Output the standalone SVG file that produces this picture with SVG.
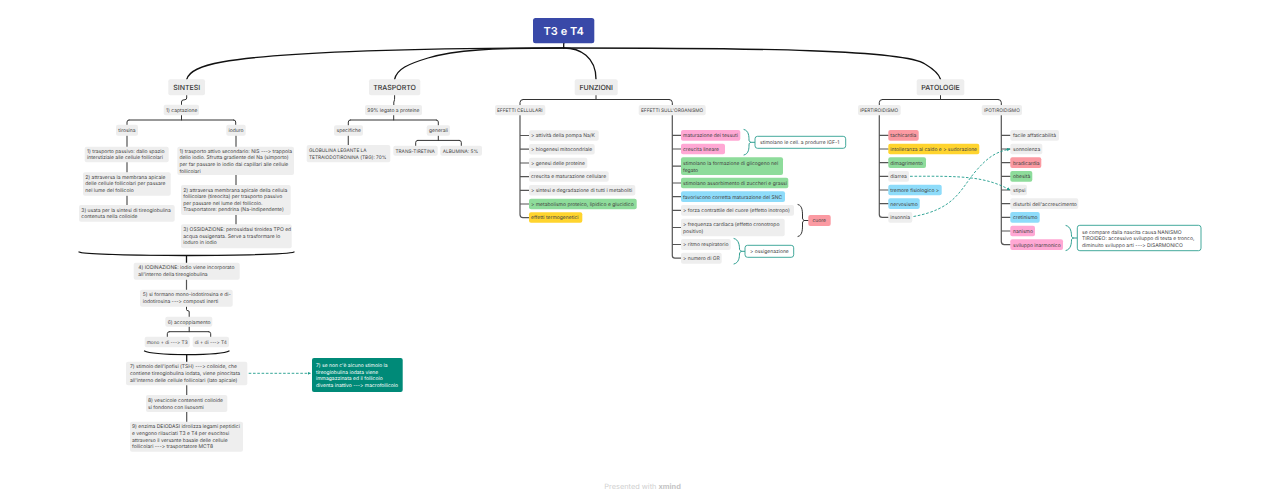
<svg xmlns="http://www.w3.org/2000/svg" width="1280" height="495" viewBox="0 0 1280 495">
<defs>
<marker id="ah" markerWidth="4" markerHeight="4" refX="3" refY="2" orient="auto" markerUnits="userSpaceOnUse"><path d="M0 0.4L3.2 2L0 3.6Z" fill="#1f9c8c"/></marker>
</defs>
<style>
text{font-family:Inter,"Noto Sans","Liberation Sans",sans-serif;font-size:5px;fill:#444;font-feature-settings:"calt" 0,"liga" 0;font-variant-ligatures:none;text-rendering:geometricPrecision}
.k{font-size:4.75px}
.g{fill:#eeeeee}.p{fill:#ffa8d4}.r{fill:#fb9aa2}.v{fill:#8edc9b}.b{fill:#8edcfa}.y{fill:#ffd42e}
.o{fill:#fff;stroke:#2f9f91;stroke-width:.9}
.t{font-size:7px;font-weight:500;fill:#333}
.w{fill:#fff}
.c path{fill:none;stroke:#333;stroke-width:1;stroke-linecap:round}
.c .m{stroke:#111;stroke-width:1.3}
.c .h{stroke:#555;stroke-width:1.2}
.c .tb{stroke:#2f9f91}
.c .d{stroke:#1f9c8c;stroke-width:.9;stroke-dasharray:2.6 1.7;stroke-linecap:butt;marker-end:url(#ah)}
</style>
<rect width="1280" height="495" fill="#fff"/>
<g id="connectors" class="c">
<path class="m" d="M563.7 43.3V48"/>
<path class="m" d="M563.7 48C400 48 270 53 222 62C200 66 189 71 186.7 79.3"/>
<path class="m" d="M563.7 48C490 48 455 50 428 58C408 64 397 69 394.6 79.3"/>
<path class="m" d="M563.7 48C580 48 596 57 596 79.3"/>
<path class="m" d="M563.7 48C760 48 905 50 925 64C935 70 939 74 940.5 79.3"/>
<path d="M186.7 95.3V98Q186.7 99.5 185 99.7L183 100Q181.5 100.3 181.5 102V104.7"/>
<path d="M181.5 115.3V120M129 120H233.7M129 120Q127 120 127 122V124.7M233.7 120Q235.7 120 235.7 122V124.7"/>
<path class="h" d="M127 135.7V146.7M127 162.3V172.3M127 195.7V205M236 135.7V146.7M236 175V185M236 215V224.3"/>
<path class="m" d="M79 252C85 255 150 255.3 186.5 255.5C225 255.3 288 255 294 252M186.5 255.5V262.7"/>
<path class="h" d="M186.5 279.7V289.7"/>
<path d="M186.5 306.7V309.5Q186.5 310.7 188 310.7Q189.2 310.7 189.2 312V316.7"/>
<path d="M189.2 326.7V331.7M169.3 331.7H208.7M169.3 331.7Q167.3 331.7 167.3 333.7V336.7M208.7 331.7Q210.7 331.7 210.7 333.7V336.7"/>
<path class="m" d="M144.5 351C150 354 170 354.5 186.7 354.7C205 354.5 224 354 229 351M186.7 354.7V361.7"/>
<path class="h" d="M186.7 385.3V395M186.7 412V421.7"/>
<path d="M394.6 95.3V98Q394.6 99.5 394.2 101L393.8 102V105"/>
<path d="M393.7 115.3V120M350.3 120H436.3M350.3 120Q348.3 120 348.3 122V125.3M436.3 120Q438.3 120 438.3 122V125.3"/>
<path class="h" d="M348.3 135.7V145"/>
<path d="M438.3 135.7V140.4M417.7 140.4H459.3M417.7 140.4Q415.7 140.4 415.7 142.4V145.7M459.3 140.4Q461.3 140.4 461.3 142.4V145.7"/>
<path d="M596 95.3V99.5M523 99.5H669.3M523 99.5Q520 99.5 520 102.5V105M669.3 99.5Q672.3 99.5 672.3 102.5V105"/>
<path class="h" d="M520 115.3V214.5Q520 217.6 523 217.6H529M520 135.5H529M520 149.2H529M520 163H529M520 176.7H529M520 190.3H529M520 204H529"/>
<path class="h" d="M672.3 115.3V255.5Q672.3 258.2 675 258.2H681M672.3 135.3H681M672.3 149H681M672.3 166.2H681M672.3 183H681M672.3 196.6H681M672.3 210.3H681M672.3 227.5H681M672.3 244.5H681"/>
<path d="M940.5 95.3V99.5M882.3 99.5H998.3M882.3 99.5Q879.3 99.5 879.3 102.5V105M998.3 99.5Q1001.3 99.5 1001.3 102.5V105"/>
<path class="h" d="M879.3 115.3V214.5Q879.3 217.4 882.3 217.4H888.3M879.3 135.3H888.3M879.3 149H888.3M879.3 162.7H888.3M879.3 176.3H888.3M879.3 190H888.3M879.3 203.7H888.3"/>
<path class="h" d="M1001.3 115.3V241.6Q1001.3 244.6 1004.3 244.6H1010.3M1001.3 135.3H1010.3M1001.3 149H1010.3M1001.3 162.7H1010.3M1001.3 176.3H1010.3M1001.3 190H1010.3M1001.3 203.7H1010.3M1001.3 217.3H1010.3M1001.3 231H1010.3"/>
<path class="tb" d="M744 129.5C749 130.5 749 137 749 140C749 141.5 750 142 751 142.3C750 142.6 749 143 749 145C749 148 749 154 744 155M751 142.3H755"/>
<path d="M798 204.5C803 205.5 802.5 213 802.5 218C802.5 219.5 803.5 220.2 804.5 220.5C803.5 220.8 802.5 221.5 802.5 223C802.5 228 803 235.5 798 236.5M804.5 220.5H808.3"/>
<path class="tb" d="M734 238.5C739 239.5 739.5 246 739.5 249C739.5 250 740.5 251 741.5 251.3C740.5 251.6 739.5 252.5 739.5 254C739.5 257 739 263 734 264M741.5 251.3H745"/>
<path class="tb" d="M1066 225.5C1071 226.5 1071.5 233 1071.5 236C1071.5 237 1072.5 237.7 1073.5 238C1072.5 238.3 1071.5 239 1071.5 240C1071.5 243 1071 249.5 1066 250.5M1073.5 238H1077.3"/>
<path class="d" d="M248.7 373.3H310.5"/>
<path class="d" d="M910 176.3C960 176 985 176 1010 190"/>
<path class="d" d="M913.5 216.5C955 209 960 190 975 172C987 158 995 152 1010 149"/>
</g>
<g id="root"><rect x="533" y="18" width="61.3" height="25.3" rx="2.5" fill="#3949a8"/><text class="w" x="563.7" y="34.6" text-anchor="middle" style="font-size:11px;font-weight:600">T3 e T4</text></g>
<g id="sintesi"><rect class="g" x="168.3" y="79.3" width="36.7" height="16" rx="2"/><text class="t" x="186.7" y="89.7" text-anchor="middle">SINTESI</text></g>
<g id="trasporto"><rect class="g" x="369" y="79.3" width="51.3" height="16" rx="2"/><text class="t" x="394.6" y="89.7" text-anchor="middle">TRASPORTO</text></g>
<g id="funzioni"><rect class="g" x="574.7" y="79.3" width="43" height="16" rx="2"/><text class="t" x="596.2" y="89.7" text-anchor="middle">FUNZIONI</text></g>
<g id="patologie"><rect class="g" x="916.7" y="79.3" width="47.6" height="16" rx="2"/><text class="t" x="940.5" y="89.7" text-anchor="middle">PATOLOGIE</text></g>

<g id="captazione"><rect class="g" x="163.7" y="104.7" width="35.3" height="10.6" rx="2"/><text x="166" y="111.8">1) captazione</text></g>
<g id="tirosina"><rect class="g" x="116" y="124.7" width="22" height="11" rx="2"/><text x="118.3" y="132">tirosina</text></g>
<g id="ioduro"><rect class="g" x="226.3" y="124.7" width="19.4" height="11" rx="2"/><text x="228.5" y="132">ioduro</text></g>
<g id="tir1"><rect class="g" x="84.7" y="146.7" width="84" height="15.6" rx="2"/><text x="87" y="152.8">1) trasporto passivo: dallo spazio</text><text x="87" y="159.3">interstiziale alle cellule follicolari</text></g>
<g id="tir2"><rect class="g" x="83" y="172.3" width="87.7" height="23.4" rx="2"/><text x="85.3" y="178.5">2) attraversa la membrana apicale</text><text x="85.3" y="185">delle cellule follicolari per passare</text><text x="85.3" y="191.6">nel lume del  follicolo</text></g>
<g id="tir3"><rect class="g" x="79" y="205" width="95.7" height="16.7" rx="2"/><text x="81.3" y="211.5">3) usata per la sintesi di tireoglobulina</text><text x="81.3" y="218.3">contenuta nella colloide</text></g>
<g id="iod1"><rect class="g" x="177.3" y="146.7" width="116.7" height="28.3" rx="2"/><text x="179.4" y="152.8">1) trasporto attivo secondario: NIS ---&gt; trappola</text><text x="179.4" y="159.3">dello iodio. Sfrutta gradiente del Na (simporto)</text><text x="179.4" y="165.9">per far passare lo iodio dai capillari alle cellule</text><text x="179.4" y="172.5">follicolari</text></g>
<g id="iod2"><rect class="g" x="181" y="185" width="109.7" height="30" rx="2"/><text x="183.3" y="191.6">2) attraversa membrana apicale della cellula</text><text x="183.3" y="198.2">follicolare (tireocita) per trasporto passivo</text><text x="183.3" y="204.8">per passare nel lume del follicolo.</text><text x="183.3" y="211.4">Trasportatore: pendrina (Na-indipendente)</text></g>
<g id="iod3"><rect class="g" x="181" y="224.3" width="110.7" height="24" rx="2"/><text x="183.3" y="231">3) OSSIDAZIONE: perossidasi tiroidea TPO ed</text><text x="183.3" y="237.6">acqua ossigenata. Serve a trasformare lo</text><text x="183.3" y="244.2">ioduro in iodio</text></g>
<g id="s4"><rect class="g" x="133.7" y="262.7" width="106" height="17" rx="2"/><text x="138.3" y="269">4) IODINAZIONE: iodio viene incorporato</text><text x="138.3" y="275.7">all'interno della tireoglobulina</text></g>
<g id="s5"><rect class="g" x="140" y="289.7" width="92.7" height="17" rx="2"/><text x="142.7" y="296">5) si formano mono-iodotirosina e di-</text><text x="142.7" y="302.7">iodotirosina ---&gt; composti inerti</text></g>
<g id="s6"><rect class="g" x="165.3" y="316.7" width="47" height="10" rx="2"/><text x="167.7" y="323.7">6) accoppiamento</text></g>
<g id="s6a"><rect class="g" x="144.7" y="336.7" width="45" height="10.6" rx="2"/><text class="k" x="146.7" y="343.8">mono + di ---&gt; T3</text></g>
<g id="s6b"><rect class="g" x="192.7" y="336.7" width="36.3" height="10.6" rx="2"/><text class="k" x="194.7" y="343.8">di + di ---&gt; T4</text></g>
<g id="s7"><rect class="g" x="126" y="361.7" width="121.3" height="23.6" rx="2"/><text x="130" y="368.3">7) stimolo dell'ipofisi (TSH) ---&gt; colloide, che</text><text x="130" y="374.9">contiene tireoglobulina iodata, viene pinocitata</text><text x="130" y="381.5">all'interno delle cellule follicolari (lato apicale)</text></g>
<g id="s7b"><rect x="312" y="358" width="90.7" height="34" rx="2" fill="#008a78"/><text class="w" x="316" y="367">7) se non c'è alcuno stimolo la</text><text class="w" x="316" y="373.6">tireoglobulina iodata viene</text><text class="w" x="316" y="380.2">immagazzinata ed il follicolo</text><text class="w" x="316" y="386.8">diventa inattivo ---&gt; macrofollicolo</text></g>
<g id="s8"><rect class="g" x="146" y="395" width="81.3" height="17" rx="2"/><text x="148" y="402">8) vescicole contenenti colloide</text><text x="148" y="408.7">si fondono con lisosomi</text></g>
<g id="s9"><rect class="g" x="130" y="421.7" width="113" height="30" rx="2"/><text x="132" y="428.3">9) enzima DEIODASI idrolizza legami peptidici</text><text x="132" y="434.9">e vengono rilasciati T3 e T4 per esocitosi</text><text x="132" y="441.5">attraverso il versante basale delle cellule</text><text x="132" y="448.1">follicolari ---&gt; trasportatore MCT8</text></g>

<g id="legato"><rect class="g" x="365" y="105" width="57" height="10.3" rx="2"/><text x="367.3" y="111.9">99% legato a proteine</text></g>
<g id="specifiche"><rect class="g" x="334" y="125.3" width="29" height="10.4" rx="2"/><text x="336.5" y="132.3">specifiche</text></g>
<g id="generali"><rect class="g" x="426.7" y="125.3" width="23.3" height="10.4" rx="2"/><text x="429" y="132.3">generali</text></g>
<g id="globulina"><rect class="g" x="306.7" y="145" width="83.6" height="17.3" rx="2"/><text class="k" x="309" y="152">GLOBULINA LEGANTE LA</text><text class="k" x="309" y="158.7">TETRAIODOTIRONINA (TBG): 70%</text></g>
<g id="trans"><rect class="g" x="393.3" y="145.7" width="44.4" height="10" rx="2"/><text class="k" x="395.5" y="152.6">TRANS-TIRETINA</text></g>
<g id="albumina"><rect class="g" x="440.3" y="145.7" width="41.7" height="10" rx="2"/><text class="k" x="442.8" y="152.6">ALBUMINA: 5%</text></g>

<g id="cell"><rect class="g" x="495" y="105" width="50.3" height="10.3" rx="2"/><text class="k" x="497" y="111.9">EFFETTI CELLULARI</text></g>
<g id="c1"><rect class="g" x="529" y="130.3" width="69.7" height="10.5" rx="2"/><text x="531" y="137.4">&gt; attività della pompa Na/K</text></g>
<g id="c2"><rect class="g" x="529" y="144" width="65.7" height="10.5" rx="2"/><text x="531" y="151.1">&gt; biogenesi mitocondriale</text></g>
<g id="c3"><rect class="g" x="529" y="157.7" width="58.3" height="10.5" rx="2"/><text x="531" y="164.8">&gt; genesi delle proteine</text></g>
<g id="c4"><rect class="g" x="529" y="171.3" width="79.7" height="10.5" rx="2"/><text x="531" y="178.4">crescita e maturazione cellulare</text></g>
<g id="c5"><rect class="g" x="529" y="185" width="106.3" height="10.5" rx="2"/><text x="531" y="192.1">&gt; sintesi e degradazione di tutti i metaboliti</text></g>
<g id="c6"><rect class="v" x="529" y="198.7" width="107.7" height="10.5" rx="2"/><text x="531" y="205.8">&gt; metabolismo proteico, lipidico e glucidico</text></g>
<g id="c7"><rect class="y" x="529" y="212.3" width="53.3" height="10.5" rx="2"/><text x="531" y="219.4">effetti termogenetici</text></g>

<g id="org"><rect class="g" x="638.7" y="105" width="67" height="10.3" rx="2"/><text class="k" x="641" y="111.9">EFFETTI SULL'ORGANISMO</text></g>
<g id="o1"><rect class="p" x="681" y="130" width="59.3" height="10.7" rx="2"/><text x="683" y="137.2">maturazione dei tessuti</text></g>
<g id="o2"><rect class="p" x="681" y="143.7" width="44" height="10.6" rx="2"/><text x="683" y="150.9">crescita lineare</text></g>
<g id="o3"><rect class="v" x="681" y="157.3" width="102" height="17.7" rx="2"/><text x="683" y="164.5">stimolano la formazione di glicogeno nel</text><text x="683" y="171.5">fegato</text></g>
<g id="o4"><rect class="v" x="681" y="177.7" width="107.3" height="10.6" rx="2"/><text x="683" y="184.9">stimolano assorbimento di zuccheri e grassi</text></g>
<g id="o5"><rect class="b" x="681" y="191.3" width="104" height="10.7" rx="2"/><text x="683" y="198.5">favoriscono corretta maturazione del SNC</text></g>
<g id="o6"><rect class="g" x="681" y="205" width="113" height="10.7" rx="2"/><text x="683" y="212.2">&gt; forza contrattile del cuore (effetto inotropo)</text></g>
<g id="o7"><rect class="g" x="681" y="218.7" width="103.7" height="17.6" rx="2"/><text x="683" y="225.9">&gt; frequenza cardiaca (effetto cronotropo</text><text x="683" y="232.8">positivo)</text></g>
<g id="o8"><rect class="g" x="681" y="239" width="49.7" height="11" rx="2"/><text x="683" y="246.4">&gt; ritmo respiratorio</text></g>
<g id="o9"><rect class="g" x="681" y="252.7" width="40.7" height="11" rx="2"/><text x="683" y="260">&gt; numero di GR</text></g>
<g id="igf"><rect class="o" x="755" y="136.3" width="90.7" height="12" rx="2.5"/><text x="760" y="144.3">stimolano le cell. a produrre IGF-1</text></g>
<g id="cuore"><rect class="r" x="808.3" y="215" width="22.4" height="11" rx="2"/><text x="812.5" y="222.4">cuore</text></g>
<g id="oss"><rect class="o" x="745" y="245.3" width="48.7" height="12" rx="2.5"/><text x="750" y="253.3">&gt; ossigenazione</text></g>

<g id="iper"><rect class="g" x="858" y="105" width="42.7" height="10.3" rx="2"/><text class="k" x="860" y="111.9">IPERTIROIDISMO</text></g>
<g id="i1"><rect class="r" x="888.3" y="130" width="30.4" height="10.7" rx="2"/><text x="890.3" y="137.2">tachicardia</text></g>
<g id="i2"><rect class="y" x="888.3" y="143.7" width="91" height="10.6" rx="2"/><text x="890.3" y="150.9">intolleranza al caldo e &gt; sudorazione</text></g>
<g id="i3"><rect class="v" x="888.3" y="157.3" width="37.7" height="10.7" rx="2"/><text x="890.3" y="164.5">dimagrimento</text></g>
<g id="i4"><rect class="g" x="888.3" y="171" width="20.7" height="10.7" rx="2"/><text x="890.3" y="178.2">diarrea</text></g>
<g id="i5"><rect class="b" x="888.3" y="184.7" width="53.4" height="10.6" rx="2"/><text x="890.3" y="191.9">tremore fisiologico &gt;</text></g>
<g id="i6"><rect class="b" x="888.3" y="198.3" width="31.4" height="10.7" rx="2"/><text x="890.3" y="205.5">nervosismo</text></g>
<g id="i7"><rect class="g" x="888.3" y="212" width="24" height="10.7" rx="2"/><text x="890.3" y="219.2">insonnia</text></g>

<g id="ipo"><rect class="g" x="981.7" y="105" width="40.3" height="10.3" rx="2"/><text class="k" x="984" y="111.9">IPOTIROIDISMO</text></g>
<g id="h1"><rect class="g" x="1010.3" y="130" width="48.7" height="10.7" rx="2"/><text x="1013" y="137.2">facile affaticabilità</text></g>
<g id="h2"><rect class="g" x="1010.3" y="143.7" width="32" height="10.6" rx="2"/><text x="1013" y="150.9">sonnolenza</text></g>
<g id="h3"><rect class="r" x="1010.3" y="157.3" width="31" height="10.7" rx="2"/><text x="1013" y="164.5">bradicardia</text></g>
<g id="h4"><rect class="v" x="1010.3" y="171" width="22" height="10.7" rx="2"/><text x="1013" y="178.2">obesità</text></g>
<g id="h5"><rect class="g" x="1010.3" y="184.7" width="16.7" height="10.6" rx="2"/><text x="1013" y="191.9">stipsi</text></g>
<g id="h6"><rect class="g" x="1010.3" y="198.3" width="68" height="10.7" rx="2"/><text x="1013" y="205.5">disturbi dell'accrescimento</text></g>
<g id="h7"><rect class="b" x="1010.3" y="212" width="29.4" height="10.7" rx="2"/><text x="1013" y="219.2">cretinismo</text></g>
<g id="h8"><rect class="p" x="1010.3" y="225.7" width="24.7" height="10.6" rx="2"/><text x="1013" y="232.9">nanismo</text></g>
<g id="h9"><rect class="p" x="1010.3" y="239.3" width="52.7" height="10.7" rx="2"/><text x="1013" y="246.5">sviluppo inarmonico</text></g>
<g id="nan"><rect class="o" x="1077.3" y="225.3" width="123.7" height="25.4" rx="2.5"/><text x="1082" y="233.6">se compare dalla nascita causa NANISMO</text><text x="1082" y="240.2">TIROIDEO: accessivo sviluppo di testa e tronco,</text><text x="1082" y="246.8">diminuito sviluppo arti ---&gt; DISARMONICO</text></g>

<text x="604.3" y="489" style="font-size:7.4px;fill:#cfcfcf">Presented with <tspan style="font-weight:700;fill:#c4c4c4">xmind</tspan></text>
</svg>
